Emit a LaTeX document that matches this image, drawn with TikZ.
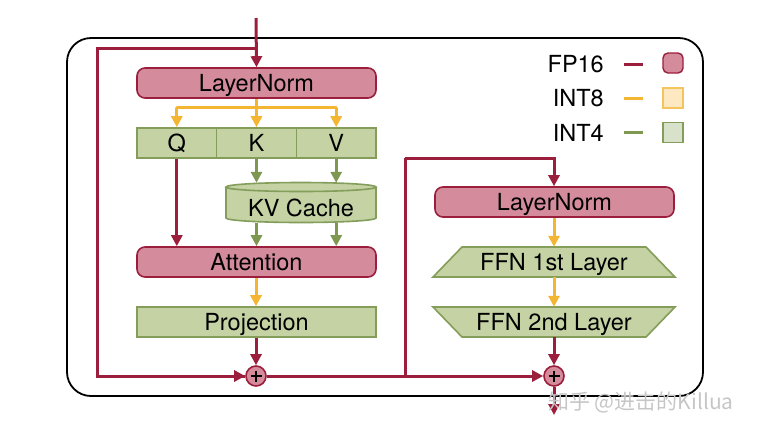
\documentclass[tikz,border=0pt]{standalone}
\usepackage{fontspec}
\setmainfont{TeX Gyre Heros}
\newfontfamily\cjk{Noto Sans CJK SC}
\usetikzlibrary{arrows.meta,calc}
\definecolor{fpline}{HTML}{9B1E3C}
\definecolor{fpfill}{HTML}{D48C9C}
\definecolor{yline}{HTML}{F4B533}
\definecolor{yfill}{HTML}{FDE8C2}
\definecolor{yborder}{HTML}{F4C55C}
\definecolor{gline}{HTML}{7E9852}
\definecolor{gfill}{HTML}{C4D2A4}
\definecolor{gborder}{HTML}{849D5A}
\definecolor{glegfill}{HTML}{D8E1C9}
\tikzset{
  lbl/.style={font=\fontsize{23.5}{28}\selectfont, inner sep=0pt, text height=16.8pt, text depth=0pt},
  fpbox/.style={lbl, draw=fpline, fill=fpfill, line width=1.6pt, rounded corners=8pt, minimum width=239pt, minimum height=30pt},
  gbox/.style={lbl, draw=gborder, fill=gfill, line width=1.6pt, minimum height=30pt},
  ghost/.style={lbl, minimum width=242pt, minimum height=30pt},
  shapefill/.style={draw=gborder, fill=gfill, line width=1.6pt, line join=miter},
  tipx/.style={-{Triangle[width=11pt,length=11pt]}},
  rline/.style={draw=fpline, line width=3pt},
  yl/.style={draw=yline, line width=3pt},
  gl/.style={draw=gline, line width=3pt},
  rarr/.style={rline, tipx},
  yarr/.style={yl, tipx},
  garr/.style={gl, tipx},
  plusc/.style={circle, draw=fpline, fill=fpfill, line width=1.6pt, minimum size=20pt, inner sep=0pt},
  legsq/.style={minimum size=20pt, inner sep=0pt, line width=1.4pt},
  legtxt/.style={lbl, anchor=east}
}
\begin{document}
\begin{tikzpicture}[x=1pt,y=-1pt]
\useasboundingbox (0,0) rectangle (759,432);
% outer frame
\draw[black, line width=1.8pt, rounded corners=24pt] (67,38) rectangle (703,396);

% ---- attention block ----
\node[fpbox] (ln1) at (256.5,83) {LayerNorm};
\node[gbox, minimum width=79.7pt] (q) at (176.8,143) {Q};
\node[gbox, minimum width=79.7pt] (k) at (256.5,143) {K};
\node[gbox, minimum width=79.7pt] (v) at (336.2,143) {V};

% KV cache cylinder
\node[minimum width=150pt, minimum height=40pt, inner sep=0pt] (cache) at (301,203) {};
\fill[gfill] (226,187) -- (226,218) arc(180:360:75pt and 4.5pt) -- (376,187) arc(0:180:75pt and 4.5pt) -- cycle;
\draw[gborder, line width=1.6pt] (226,187) -- (226,218) arc(180:360:75pt and 4.5pt) -- (376,187);
\draw[gborder, line width=1.6pt, fill=gfill] (301,187) ellipse (75pt and 4.5pt);
\node[lbl] (cachetxt) at (301,208.5) {KV Cache};

\node[fpbox] (att) at (256.5,262) {Attention};
\node[gbox, minimum width=239pt] (proj) at (256.5,322) {Projection};
\node[plusc] (p1) at (256,376) {};
\draw[black, line width=2.4pt] ($(p1.center)+(-5.5,0)$) -- ($(p1.center)+(5.5,0)$);
\draw[black, line width=2.4pt] ($(p1.center)+(0,-5.5)$) -- ($(p1.center)+(0,5.5)$);

% ---- FFN block ----
\node[fpbox] (ln2) at (554.5,202) {LayerNorm};
\draw[shapefill] (433,277) -- (462,247) -- (646,247) -- (675,277) -- cycle;
\node[ghost] (ffn1) at (554,262) {FFN 1st Layer};
\draw[shapefill] (433,307) -- (675,307) -- (646,337) -- (462,337) -- cycle;
\node[ghost] (ffn2) at (554,322) {FFN 2nd Layer};
\node[plusc] (p2) at (554,376) {};
\draw[black, line width=2.4pt] ($(p2.center)+(-5.5,0)$) -- ($(p2.center)+(5.5,0)$);
\draw[black, line width=2.4pt] ($(p2.center)+(0,-5.5)$) -- ($(p2.center)+(0,5.5)$);

% ---- connectors ----
\coordinate (in) at (256,18);
\coordinate (br1) at (256,48);
\coordinate (c1) at (97,48);
\coordinate (c2) at (97,376);
\coordinate (r2) at (405,376);
\coordinate (r2top) at (405,158);
\coordinate (out) at (554,415);

\draw[rline] (br1) -- (c1) -- (c2) -- (p1.west);
\draw[rarr] (c2) -- (p1.west);
\draw[rarr] (in) -- (ln1.north);

\draw[yl] (ln1.south) -- ++(0,9) coordinate (ysp);
\draw[yl, line cap=round] (ysp -| q.north) -- (ysp -| v.north);
\draw[yarr] (ysp -| q.north) -- (q.north);
\draw[yarr] (ysp) -- (k.north);
\draw[yarr] (ysp -| v.north) -- (v.north);

\draw[garr] (k.south) -- (k.south |- cache.north);
\draw[garr] (v.south) -- (v.south |- cache.north);
\draw[garr] (cache.south -| k.south) -- (att.north -| k.south);
\draw[garr] (cache.south -| v.south) -- (att.north -| v.south);
\draw[rarr] (q.south) -- (q.south |- att.north);

\draw[yarr] (att.south -| p1) -- (proj.north -| p1);
\draw[rarr] (proj.south -| p1) -- (p1.north);

\draw[rarr] (p1.east) -- (p2.west);
\draw[rline] (r2) -- (r2top);
\draw[rarr] (r2top) -| (ln2.north -| p2);

\draw[yarr] (ln2.south -| p2) -- (ffn1.north);
\draw[yarr] (ffn1.south) -- (ffn2.north);
\draw[rarr] (ffn2.south) -- (p2.north);
\draw[rarr] (p2.south) -- (out);

% ---- legend ----
\node[legtxt] (lfp) at (604,64) {FP16};
\node[legtxt] (li8) at (604,98.5) {INT8};
\node[legtxt] (li4) at (604,133) {INT4};
\node[legsq, draw=fpline, fill=fpfill, rounded corners=5pt] (sfp) at (673,63) {};
\node[legsq, draw=yborder, fill=yfill] (si8) at (673,98) {};
\node[legsq, draw=gborder, fill=glegfill] (si4) at (673,132.5) {};
\draw[fpline, line width=3pt] (624,64) -- (643,64);
\draw[yline, line width=3pt] (624,98) -- (643,98);
\draw[gline, line width=3pt] (624,132.5) -- (643,132.5);

% watermark
\node[font=\cjk\fontsize{21}{24}\selectfont, text=gray!45, inner sep=0pt] (wm) at (641,402) {知乎 @进击的Killua};
\end{tikzpicture}
\end{document}
